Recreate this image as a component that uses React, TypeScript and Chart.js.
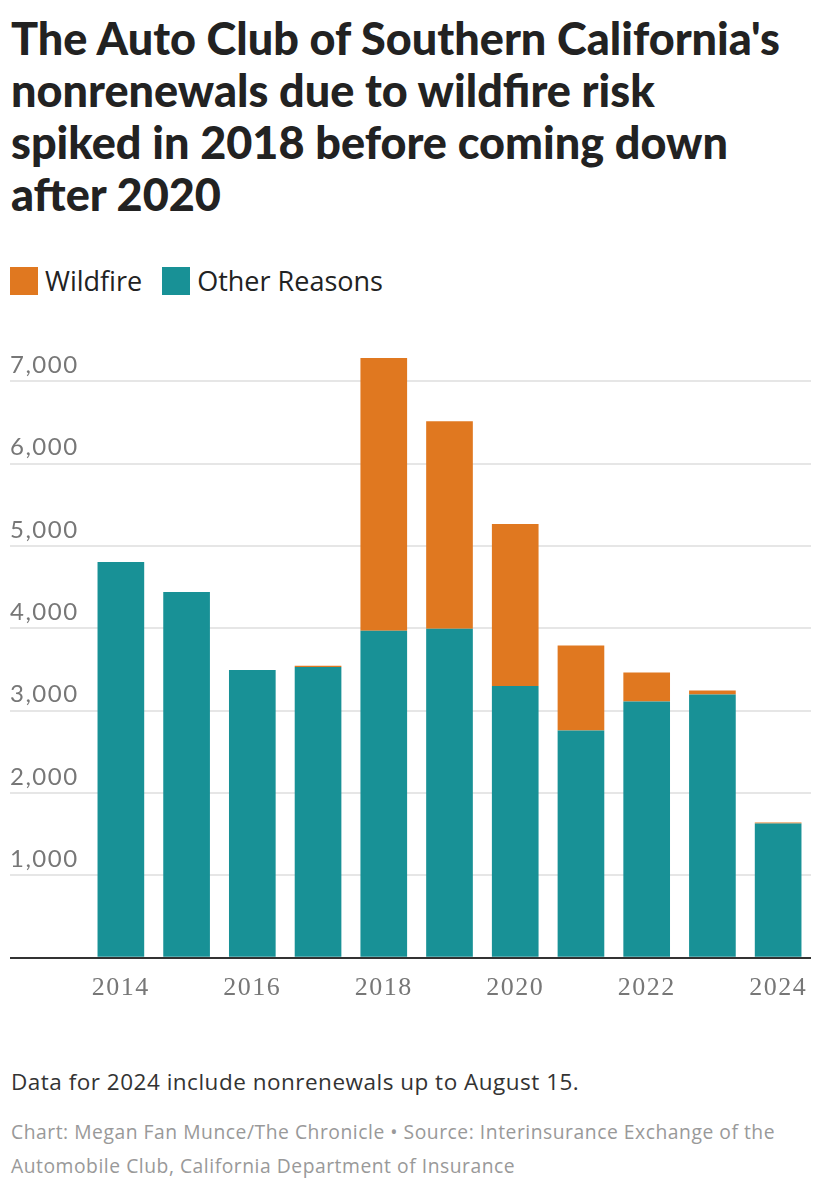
import { useEffect, useRef } from "react"
import { Chart, registerables } from "chart.js"

Chart.register(...registerables)

// data
const years = ["2014", "2015", "2016", "2017", "2018", "2019", "2020", "2021", "2022", "2023", "2024"]
const otherReasons = [4805, 4440, 3495, 3530, 3970, 3995, 3300, 2760, 3110, 3195, 1630]
const wildfire = [0, 0, 0, 15, 3310, 2520, 1965, 1030, 355, 50, 12]
const yTicks = [0, 1000, 2000, 3000, 4000, 5000, 6000, 7000]

const ORANGE = "#e07820"
const TEAL = "#189196"

// canvas text gets a bit of tracking, like the original
const letterSpacingPlugin = {
  id: "letterSpacing",
  beforeDraw(chart: Chart) {
    ;(chart.ctx as any).letterSpacing = "1.5px"
  },
}

function NonrenewalsChart() {
  const chartRef = useRef<HTMLCanvasElement>(null)
  const chartInstance = useRef<Chart | null>(null)

  useEffect(() => {
    if (!chartRef.current) return
    if (chartInstance.current) chartInstance.current.destroy()
    const ctx = chartRef.current.getContext("2d")
    if (!ctx) return

    chartInstance.current = new Chart(ctx, {
      type: "bar",
      data: {
        labels: years,
        datasets: [
          {
            label: "Other Reasons",
            data: otherReasons,
            backgroundColor: TEAL,
            borderWidth: 0,
            categoryPercentage: 1,
            barPercentage: 0.71,
          },
          {
            label: "Wildfire",
            data: wildfire,
            backgroundColor: ORANGE,
            borderWidth: 0,
            categoryPercentage: 1,
            barPercentage: 0.71,
          },
        ],
      },
      options: {
        animation: false,
        responsive: true,
        maintainAspectRatio: false,
        layout: { padding: { top: 20, left: 2, right: 1, bottom: 0 } },
        plugins: {
          legend: { display: false },
          tooltip: { enabled: false },
        },
        scales: {
          x: {
            stacked: true,
            grid: { display: false, drawTicks: false },
            border: { display: false },
            afterFit: (scale) => {
              scale.paddingLeft = 0
              scale.paddingRight = 0
            },
            ticks: {
              autoSkip: false,
              maxRotation: 0,
              padding: 15,
              color: "#777",
              font: { family: "'Liberation Serif', serif", size: 26 },
              callback: (_v, i) => (i % 2 === 0 ? years[i] : ""),
            },
          },
          y: {
            stacked: true,
            min: 0,
            max: 7500,
            afterFit: (scale) => {
              scale.width = 78
            },
            afterBuildTicks: (scale) => {
              scale.ticks = yTicks.map((value) => ({ value }))
            },
            border: { display: false },
            grid: {
              color: (c) => (c.tick && c.tick.value === 0 ? "#333" : "#e6e6e6"),
              lineWidth: 2,
              drawTicks: true,
              tickLength: 78,
            },
            ticks: {
              crossAlign: "far",
              padding: 0,
              labelOffset: -16,
              color: "#777",
              font: { family: "Lato, sans-serif", size: 24 },
              callback: (v) => (Number(v) === 0 ? "" : Number(v).toLocaleString("en-US")),
            },
          },
        },
      },
      plugins: [letterSpacingPlugin],
    })

    return () => {
      if (chartInstance.current) {
        chartInstance.current.destroy()
        chartInstance.current = null
      }
    }
  }, [])

  return (
    <div style={{ position: "relative", height: 699, marginTop: 25 }}>
      <canvas ref={chartRef} />
    </div>
  )
}

const swatch = (color: string) => (
  <span
    style={{
      display: "inline-block",
      width: 28,
      height: 28,
      background: color,
      marginRight: 7,
      verticalAlign: "top",
    }}
  />
)

export default function App() {
  return (
    <div style={{ width: 804, fontFamily: "'Open Sans', sans-serif" }}>
      <h1
        style={{
          margin: 0,
          paddingTop: 4,
          paddingLeft: 3,
          fontFamily: "Lato, sans-serif",
          fontWeight: 900,
          fontSize: 45,
          lineHeight: "52px",
          color: "#222",
          whiteSpace: "nowrap",
        }}
      >
        The Auto Club of Southern California's
        <br />
        nonrenewals due to wildfire risk
        <br />
        spiked in 2018 before coming down
        <br />
        after 2020
      </h1>
      <div
        style={{
          marginTop: 47,
          paddingLeft: 2,
          height: 28,
          lineHeight: "28px",
          fontFamily: "'Open Sans', sans-serif",
          fontSize: 27,
          color: "#222",
          whiteSpace: "nowrap",
        }}
      >
        {swatch(ORANGE)}
        <span style={{ marginRight: 20 }}>Wildfire</span>
        {swatch(TEAL)}
        <span>Other Reasons</span>
      </div>
      <NonrenewalsChart />
      <div
        style={{
          marginTop: 48,
          paddingLeft: 3,
          fontSize: 22.5,
          letterSpacing: 0.5,
          lineHeight: "30px",
          color: "#333",
        }}
      >
        Data for 2024 include nonrenewals up to August 15.
      </div>
      <div
        style={{
          marginTop: 18,
          paddingLeft: 3,
          fontSize: 19.3,
          letterSpacing: 0.53,
          lineHeight: "34px",
          color: "#999",
          whiteSpace: "nowrap",
        }}
      >
        Chart: Megan Fan Munce/The Chronicle • Source: Interinsurance Exchange of the
        <br />
        Automobile Club, California Department of Insurance
      </div>
    </div>
  )
}
